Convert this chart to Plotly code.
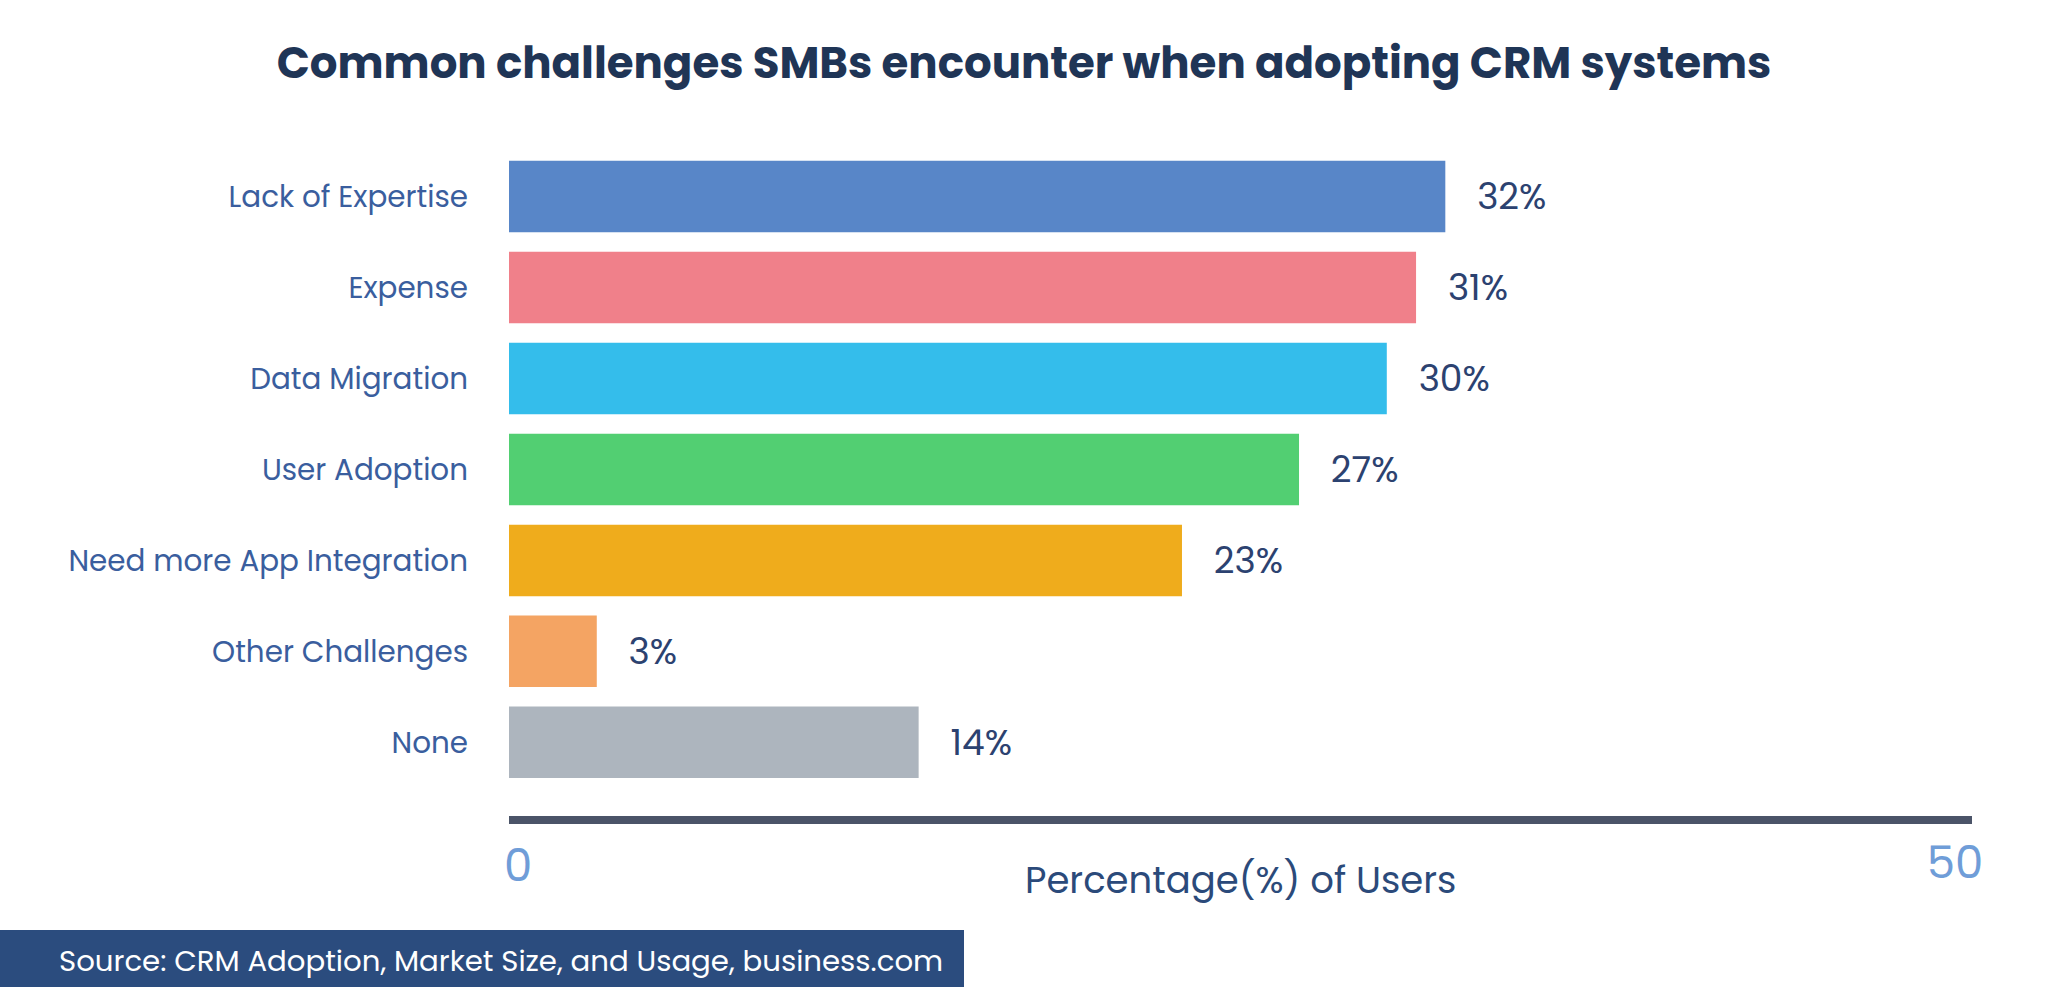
"""
Gráfico de barras horizontales: retos de adopción de CRM en pymes
"""
import plotly.graph_objects as go

# Datos
categories = ['Lack of Expertise', 'Expense', 'Data Migration', 'User Adoption',
              'Need more App Integration', 'Other Challenges', 'None']
values = [32, 31, 30, 27, 23, 3, 14]
bar_colors = ['#5886C8', '#F0808A', '#34BDEB', '#52CF72', '#EFAC1C', '#F4A463', '#ADB5BE']
x_tick_start = [0]
x_tick_end = [50]

FONT = "Poppins, Open Sans, sans-serif"
TICKFONT = dict(family=FONT, size=45, color='#6F9DD8')

fig = go.Figure()

fig.add_trace(go.Bar(
    x=values,
    y=categories,
    orientation='h',
    marker=dict(color=bar_colors, line=dict(width=0)),
    text=values,
    texttemplate='\u00a0\u00a0\u00a0%{x}%',
    textposition='outside',
    textfont=dict(family=FONT, size=36, color='#2C4270'),
    cliponaxis=False,
    hoverinfo='skip'
))

# traza invisible para que se dibuje el eje x2 (etiqueta 50)
fig.add_trace(go.Scatter(
    x=x_tick_end,
    y=[categories[-1]],
    xaxis='x2',
    mode='markers',
    marker=dict(opacity=0),
    hoverinfo='skip'
))

fig.update_layout(
    width=2048,
    height=987,
    plot_bgcolor='white',
    paper_bgcolor='white',
    showlegend=False,
    bargap=0.214,
    margin=dict(l=509, r=76, t=142, b=171),
    title=dict(
        text='<b>Common challenges SMBs encounter when adopting CRM systems</b>',
        x=0.5, xanchor='center', y=0.936, yanchor='middle',
        font=dict(family=FONT, size=43.5, color='#1F3556')
    ),
    xaxis=dict(
        range=[0, 50],
        tickvals=x_tick_start,
        showgrid=False,
        zeroline=False,
        showline=True,
        linewidth=8,
        linecolor='#4B5468',
        ticks='outside',
        ticklen=3,
        tickcolor='rgba(0,0,0,0)',
        ticklabelshift=9,
        tickfont=TICKFONT,
    ),
    # segundo eje solo para la etiqueta 50 (desplazada hacia dentro)
    xaxis2=dict(
        range=[0, 50],
        overlaying='x',
        anchor='y',
        side='bottom',
        tickvals=x_tick_end,
        showgrid=False,
        zeroline=False,
        showline=False,
        ticks='outside',
        ticklen=7,
        tickcolor='rgba(0,0,0,0)',
        ticklabelshift=-17,
        tickfont=TICKFONT,
    ),
    yaxis=dict(
        categoryorder='array',
        categoryarray=categories,
        range=[6.81, -0.6],
        showgrid=False,
        zeroline=False,
        showline=False,
        ticks='',
        ticklabelstandoff=40,
        tickfont=dict(family=FONT, size=29.4, color='#3A5E9E'),
    ),
    shapes=[dict(
        type='rect', xref='paper', yref='paper',
        x0=-509 / 1463, x1=(964 - 509) / 1463,
        y0=-171 / 674, y1=(-171 + 57) / 674,
        fillcolor='#2B4C7E', line=dict(width=0), layer='above'
    )],
    annotations=[
        dict(
            text='Percentage(%) of Users', xref='paper', yref='paper',
            x=0.5, y=-64 / 674, xanchor='center', yanchor='middle',
            showarrow=False, font=dict(family=FONT, size=37, color='#2B4A7A')
        ),
        dict(
            text='Source: CRM Adoption, Market Size, and Usage, business.com',
            xref='paper', yref='paper',
            x=-452 / 1463, y=-144 / 674, xanchor='left', yanchor='middle',
            showarrow=False, font=dict(family=FONT, size=29.2, color='white')
        ),
    ],
)

# sin margen del body para que la figura ocupe toda la ventana
fig.write_html("out.html", config={'displayModeBar': False},
               post_script="document.body.style.margin='0';")
